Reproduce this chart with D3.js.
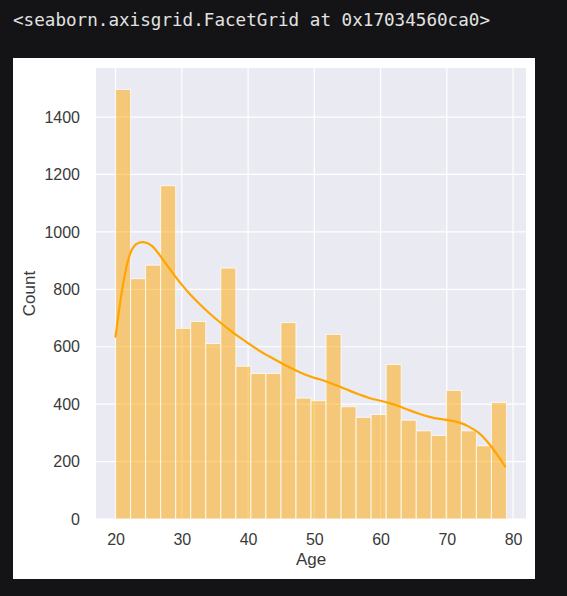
<!DOCTYPE html>
<html>
<head>
<meta charset="utf-8">
<script src="https://cdn.jsdelivr.net/npm/d3@7"></script>
<style>
  html, body { margin: 0; padding: 0; background: #141416; }
  svg { display: block; }
  .tick text { font-family: "Liberation Sans", Arial, sans-serif; font-size: 16px; fill: #3a3a3a; }
</style>
</head>
<body>
<div id="canvas"></div>
<script>
	// histogram counts, 26 bins from 20 to 79
	const binStart = 20, binEnd = 79;
	const counts = [1496, 837, 884, 1161, 664, 688, 611, 874, 532, 507, 507, 684, 421,
		412, 643, 391, 354, 364, 538, 344, 307, 291, 448, 307, 255, 406];

	// kde curve (age, count)
	const kdeAge = [20, 20.7, 21.5, 22.2, 23, 24.2, 25.5, 26.7, 28.2, 29.7, 31.25, 32.75, 34.3,
		35.8, 37.3, 38.8, 40.3, 41.8, 43.3, 44.8, 46.3, 47.8, 49.3, 50.8, 52.3, 53.8, 55.3,
		56.8, 58.3, 59.8, 61.3, 62.8, 64.3, 65.8, 67.4, 68.9, 70.4, 71.9, 73.4, 74.9, 75.9,
		76.9, 77.9, 78.8];
	const kdeCount = [635, 760, 868, 930, 960, 968, 955, 918, 870, 823, 782, 747, 713,
		684, 657, 631, 608, 584, 565, 546, 527, 511, 496, 487, 475, 462, 447,
		433, 421, 413, 404, 393, 379, 366, 355, 348, 344, 337, 322, 300, 276,
		247, 214, 183];

	const xTicks = [20, 30, 40, 50, 60, 70, 80];
	const yTicks = [0, 200, 400, 600, 800, 1000, 1200, 1400];
	const header = "<seaborn.axisgrid.FacetGrid at 0x17034560ca0>";

	const W = 567, H = 596;
	const plot = {left: 96, right: 526, top: 68, bottom: 519};

	const svg = d3.select("#canvas").append("svg").attr("width", W).attr("height", H);

	/*============= frame ===============*/
	svg.append("rect").attr("width", W).attr("height", H).attr("fill", "#141416");
	svg.append("text")
		.attr("x", 13).attr("y", 26)
		.attr("textLength", 477).attr("lengthAdjust", "spacingAndGlyphs")
		.style("font-family", "'DejaVu Sans Mono', monospace")
		.style("font-size", "17.5px")
		.attr("fill", "#e2e2e2")
		.text(header);
	svg.append("rect").attr("x", 13).attr("y", 58).attr("width", 522).attr("height", 521).attr("fill", "#ffffff");
	svg.append("rect")
		.attr("x", plot.left).attr("y", plot.top)
		.attr("width", plot.right - plot.left).attr("height", plot.bottom - plot.top)
		.attr("fill", "#eaeaf2");

	/*============= scales ===============*/
	const pad = (binEnd - binStart) * 0.05;
	const x = d3.scaleLinear().domain([binStart - pad, binEnd + pad]).range([plot.left, plot.right]);
	const y = d3.scaleLinear().domain([0, d3.max(counts) * 1.05]).range([plot.bottom, plot.top]);

	// grid
	const grid = svg.append("g");
	grid.selectAll("line.gx").data(xTicks).enter().append("line")
		.attr("x1", d => x(d)).attr("x2", d => x(d))
		.attr("y1", plot.top).attr("y2", plot.bottom)
		.attr("stroke", "#fff").attr("stroke-width", 1.2);
	grid.selectAll("line.gy").data(yTicks).enter().append("line")
		.attr("x1", plot.left).attr("x2", plot.right)
		.attr("y1", d => y(d)).attr("y2", d => y(d))
		.attr("stroke", "#fff").attr("stroke-width", 1.2);

	/*============= bars ===============*/
	const bw = (binEnd - binStart) / counts.length;
	svg.append("g").selectAll("rect")
		.data(counts)
		.enter()
		.append("rect")
		.attr("x", (d, i) => x(binStart + i * bw))
		.attr("width", (d, i) => x(binStart + (i + 1) * bw) - x(binStart + i * bw))
		.attr("y", d => y(d))
		.attr("height", d => y(0) - y(d))
		.attr("fill", "#ffa500").attr("fill-opacity", 0.5)
		.attr("stroke", "#fff").attr("stroke-opacity", 0.75).attr("stroke-width", 1);

	/*============= kde ===============*/
	const kde = kdeAge.map((a, i) => [a, kdeCount[i]]);
	svg.append("path")
		.datum(kde)
		.attr("fill", "none")
		.attr("stroke", "#ffa500")
		.attr("stroke-width", 2.2)
		.attr("stroke-linecap", "round")
		.attr("d", d3.line().x(d => x(d[0])).y(d => y(d[1])).curve(d3.curveBasis));

	/*============= axes ===============*/
	const gX = svg.append("g")
		.attr("transform", `translate(0,${plot.bottom})`)
		.call(d3.axisBottom(x).tickValues(xTicks).tickSize(0).tickPadding(14.5));
	const gY = svg.append("g")
		.attr("transform", `translate(${plot.left},0)`)
		.call(d3.axisLeft(y).tickValues(yTicks).tickSize(0).tickPadding(16).tickFormat(d3.format("d")));
	[gX, gY].forEach(g => g.select(".domain").remove());

	svg.append("text")
		.attr("x", (plot.left + plot.right) / 2).attr("y", 565)
		.attr("text-anchor", "middle")
		.style("font-family", "'Liberation Sans', Arial, sans-serif").style("font-size", "17px")
		.attr("fill", "#3a3a3a")
		.text("Age");
	svg.append("text")
		.attr("transform", `translate(35,${(plot.top + plot.bottom) / 2}) rotate(-90)`)
		.attr("text-anchor", "middle")
		.style("font-family", "'Liberation Sans', Arial, sans-serif").style("font-size", "17px")
		.attr("fill", "#3a3a3a")
		.text("Count");
</script>
</body>
</html>
